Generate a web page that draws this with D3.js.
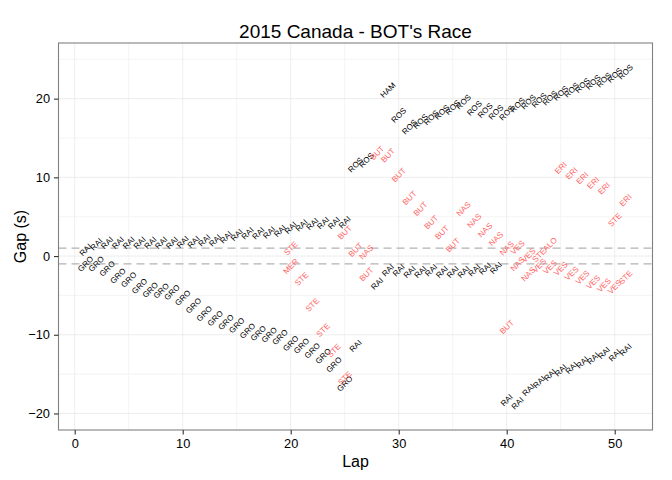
<!DOCTYPE html>
<html>
<head>
<meta charset="utf-8">
<script src="https://cdn.jsdelivr.net/npm/d3@7/dist/d3.min.js"></script>
<style>
  html, body { margin: 0; padding: 0; background: #fff; }
  svg { display: block; font-family: "Liberation Sans", Arial, Helvetica, sans-serif; }
</style>
</head>
<body>
<svg id="chart" width="672" height="480"></svg>
<script>
// ---------- data ----------
const titleText = "2015 Canada - BOT's Race";
const xTicks = [0, 10, 20, 30, 40, 50];
const yTicks = [-20, -10, 0, 10, 20];
const xMinor = [5, 15, 25, 35, 45];
const yMinor = [-15, -5, 5, 15, 25];
const refLines = [1, -1];

// black labels, above BOT
const blackAboveLaps = [1,2,3,4,5,6,7,8,9,10,11,12,13,14,15,16,17,18,19,20,21,22,23,24,25,26,27,29,30,31,32,33,34,35,36,37,38,39,40,41,42,43,44,45,46,47,48,49,50,51];
const blackAboveDrivers = ["RAI","RAI","RAI","RAI","RAI","RAI","RAI","RAI","RAI","RAI","RAI","RAI","RAI","RAI","RAI","RAI","RAI","RAI","RAI","RAI","RAI","RAI","RAI","RAI","RAI","ROS","ROS","HAM","ROS","ROS","ROS","ROS","ROS","ROS","ROS","ROS","ROS","ROS","ROS","ROS","ROS","ROS","ROS","ROS","ROS","ROS","ROS","ROS","ROS","ROS"];
const blackAboveGaps = [0.8,1.5,1.7,1.7,1.7,1.7,1.7,1.7,1.7,1.8,1.8,2.0,2.0,2.4,2.7,2.9,2.9,3.0,3.2,3.6,3.9,4.1,4.2,4.2,4.3,11.6,12.2,21.1,17.9,16.4,17.1,17.6,18.3,18.9,19.6,18.8,18.5,18.3,18.2,19.2,19.6,19.8,20.1,20.7,21.1,21.7,22.1,22.4,23.0,23.4];

// black labels, below BOT
const blackBelowLaps = [1,2,3,4,5,6,7,8,9,10,11,12,13,14,15,16,17,18,19,20,21,22,23,24,25,26,28,29,30,31,32,33,34,35,36,37,38,39,40,41,42,43,44,45,46,47,48,49,50,51];
const blackBelowDrivers = ["GRO","GRO","GRO","GRO","GRO","GRO","GRO","GRO","GRO","GRO","GRO","GRO","GRO","GRO","GRO","GRO","GRO","GRO","GRO","GRO","GRO","GRO","GRO","GRO","GRO","RAI","RAI","RAI","RAI","RAI","RAI","RAI","RAI","RAI","RAI","RAI","RAI","RAI","RAI","RAI","RAI","RAI","RAI","RAI","RAI","RAI","RAI","RAI","RAI","RAI"];
const blackBelowGaps = [-1.0,-1.0,-1.6,-2.5,-3.0,-3.8,-4.3,-4.4,-4.6,-5.3,-6.3,-7.3,-7.9,-8.4,-8.8,-9.5,-9.8,-10.0,-10.3,-11.1,-11.4,-12.0,-12.7,-13.8,-16.2,-11.4,-3.5,-1.8,-1.8,-2.0,-2.0,-1.8,-2.0,-2.0,-2.0,-1.8,-1.6,-1.5,-18.3,-18.7,-17.0,-16.0,-15.1,-14.5,-14.2,-13.5,-13.0,-12.3,-12.6,-11.9];

// red labels, above BOT
const redAboveLaps = [20,25,26,27,28,29,30,31,32,33,34,35,36,37,38,39,40,41,42,43,44,45,46,47,48,49,50,51];
const redAboveDrivers = ["STE","BUT","BUT","NAS","BUT","BUT","BUT","BUT","BUT","BUT","BUT","BUT","NAS","NAS","NAS","NAS","NAS","VES","VES","STE","ALO","ERI","ERI","ERI","ERI","ERI","STE","ERI"];
const redAboveGaps = [1.0,3.0,0.8,0.5,13.1,12.8,10.3,7.4,6.0,4.3,3.0,1.4,6.0,4.5,3.3,2.2,1.0,1.1,0.1,0.1,1.5,11.2,10.5,9.9,9.3,8.6,4.6,7.1];

// red labels, below BOT
const redBelowLaps = [20,21,22,23,24,25,27,40,41,42,43,44,45,46,47,48,49,50,51];
const redBelowDrivers = ["MER","STE","STE","STE","STE","STE","BUT","BUT","NAS","NAS","VES","VES","VES","VES","VES","VES","VES","VES","STE"];
const redBelowGaps = [-1.3,-2.9,-6.2,-9.4,-12.0,-15.5,-2.3,-9.0,-1.0,-2.3,-1.2,-1.4,-1.6,-2.2,-2.7,-3.3,-3.7,-3.9,-2.7];

const groups = [
  { laps: blackAboveLaps, drivers: blackAboveDrivers, gaps: blackAboveGaps, color: "#000000" },
  { laps: blackBelowLaps, drivers: blackBelowDrivers, gaps: blackBelowGaps, color: "#000000" },
  { laps: redAboveLaps, drivers: redAboveDrivers, gaps: redAboveGaps, color: "#ff6666" },
  { laps: redBelowLaps, drivers: redBelowDrivers, gaps: redBelowGaps, color: "#ff6666" }
];

// ---------- layout ----------
const panel = { left: 58.5, right: 652.5, top: 43, bottom: 430 };
const svg = d3.select("#chart");

const x = d3.scaleLinear().domain([-1.5, 53.5]).range([panel.left, panel.right]);
const y = d3.scaleLinear().domain([-22.1, 27.07]).range([panel.bottom, panel.top]);

// panel background
svg.append("rect")
  .attr("x", panel.left).attr("y", panel.top)
  .attr("width", panel.right - panel.left).attr("height", panel.bottom - panel.top)
  .attr("fill", "#ffffff");

// minor grid
const grid = svg.append("g");
grid.selectAll(".xminor").data(xMinor).enter().append("line")
  .attr("x1", d => x(d)).attr("x2", d => x(d))
  .attr("y1", panel.top).attr("y2", panel.bottom)
  .attr("stroke", "#f5f5f5").attr("stroke-width", 1.1);
grid.selectAll(".yminor").data(yMinor).enter().append("line")
  .attr("y1", d => y(d)).attr("y2", d => y(d))
  .attr("x1", panel.left).attr("x2", panel.right)
  .attr("stroke", "#f5f5f5").attr("stroke-width", 1.1);
// major grid
grid.selectAll(".xmajor").data(xTicks).enter().append("line")
  .attr("x1", d => x(d)).attr("x2", d => x(d))
  .attr("y1", panel.top).attr("y2", panel.bottom)
  .attr("stroke", "#e8e8e8").attr("stroke-width", 0.8);
grid.selectAll(".ymajor").data(yTicks).enter().append("line")
  .attr("y1", d => y(d)).attr("y2", d => y(d))
  .attr("x1", panel.left).attr("x2", panel.right)
  .attr("stroke", "#e8e8e8").attr("stroke-width", 0.8);

// dashed reference lines
svg.append("g").selectAll("line").data(refLines).enter().append("line")
  .attr("x1", panel.left).attr("x2", panel.right)
  .attr("y1", d => y(d)).attr("y2", d => y(d))
  .attr("stroke", "#b3b3b3").attr("stroke-width", 1.3)
  .attr("stroke-dasharray", "8,5");

// labels
const labelLayer = svg.append("g");
groups.forEach(g => {
  const rows = g.laps.map((lap, i) => ({ lap: lap, driver: g.drivers[i], gap: g.gaps[i] }));
  labelLayer.append("g").selectAll("text").data(rows).enter().append("text")
    .attr("transform", d => `translate(${x(d.lap)},${y(d.gap)}) rotate(-45)`)
    .attr("text-anchor", "middle")
    .attr("dy", "0.35em")
    .attr("font-size", "8px")
    .attr("fill", g.color)
    .text(d => d.driver);
});

// panel border
svg.append("rect")
  .attr("x", panel.left).attr("y", panel.top)
  .attr("width", panel.right - panel.left).attr("height", panel.bottom - panel.top)
  .attr("fill", "none").attr("stroke", "#808080").attr("stroke-width", 1.1);

// axes
const xAxis = svg.append("g")
  .attr("transform", `translate(0,${panel.bottom})`)
  .call(d3.axisBottom(x).tickValues(xTicks).tickSize(4.5).tickSizeOuter(0).tickPadding(4));
const yAxis = svg.append("g")
  .attr("transform", `translate(${panel.left},0)`)
  .call(d3.axisLeft(y).tickValues(yTicks).tickSize(4.5).tickSizeOuter(0).tickPadding(4));
[xAxis, yAxis].forEach(a => {
  a.select(".domain").remove();
  a.selectAll(".tick line").attr("stroke", "#333333").attr("stroke-width", 1.1);
  a.selectAll(".tick text").attr("fill", "#000").attr("font-size", "12.8px")
    .attr("font-family", "\"Liberation Sans\", Arial, Helvetica, sans-serif");
});

// titles
svg.append("text")
  .attr("x", (panel.left + panel.right) / 2).attr("y", 37.5)
  .attr("text-anchor", "middle").attr("font-size", "19px").attr("fill", "#000")
  .text(titleText);
svg.append("text")
  .attr("x", (panel.left + panel.right) / 2).attr("y", 467)
  .attr("text-anchor", "middle").attr("font-size", "16px").attr("fill", "#000")
  .text("Lap");
svg.append("text")
  .attr("transform", `translate(26,${(panel.top + panel.bottom) / 2}) rotate(-90)`)
  .attr("text-anchor", "middle").attr("font-size", "16px").attr("fill", "#000")
  .text("Gap (s)");
</script>
</body>
</html>
